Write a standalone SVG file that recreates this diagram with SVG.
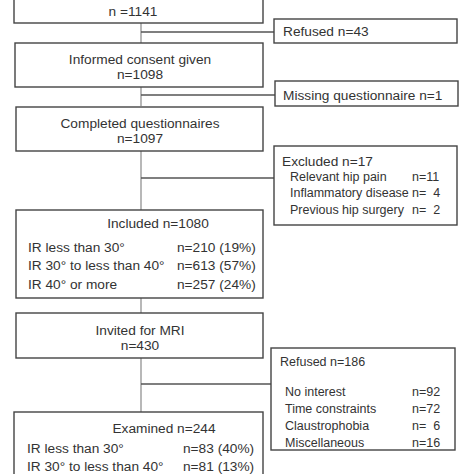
<svg xmlns="http://www.w3.org/2000/svg" width="474" height="474" viewBox="0 0 474 474">
<style>
.box{fill:#fff;stroke:#444;stroke-width:1.4}
.v{stroke:#9a9a9a;stroke-width:1.4;fill:none}
.h{stroke:#555;stroke-width:1.4;fill:none}
text{font-family:"Liberation Sans",Arial,sans-serif;font-size:13.7px;fill:#333;white-space:pre}
.s{font-size:12.5px}
.c{text-anchor:middle}
</style>
<rect width="474" height="474" fill="#fff"/>
<g id="connectors">
<line class="v" x1="141" y1="23" x2="141" y2="43"/>
<line class="h" x1="141" y1="32" x2="274" y2="32"/>
<line class="v" x1="141" y1="87" x2="141" y2="106"/>
<line class="h" x1="141" y1="95" x2="275" y2="95"/>
<line class="v" x1="141" y1="151" x2="141" y2="210"/>
<line class="h" x1="141" y1="178" x2="274" y2="178"/>
<line class="v" x1="141" y1="298" x2="141" y2="313"/>
<line class="v" x1="141" y1="358" x2="141" y2="412"/>
<line class="h" x1="141" y1="384" x2="271" y2="384"/>
</g>
<g id="n1">
<rect class="box" x="14" y="-10" width="249" height="33"/>
<text class="c" x="133" y="16">n =1141</text>
</g>
<g id="refused1">
<rect class="box" x="274" y="19" width="183" height="24"/>
<text x="283" y="36">Refused n=43</text>
</g>
<g id="consent">
<rect class="box" x="15" y="43" width="248" height="44"/>
<text class="c" x="140" y="64">Informed consent given</text>
<text class="c" x="140" y="79">n=1098</text>
</g>
<g id="missing">
<rect class="box" x="275" y="81" width="183" height="25"/>
<text x="283" y="100">Missing questionnaire n=1</text>
</g>
<g id="completed">
<rect class="box" x="16" y="107" width="247" height="44"/>
<text class="c" x="140" y="128">Completed questionnaires</text>
<text class="c" x="140" y="143">n=1097</text>
</g>
<g id="excluded">
<rect class="box" x="274" y="146" width="183" height="79"/>
<text x="282" y="166">Excluded n=17</text>
<text class="s" x="290" y="181">Relevant hip pain</text><text class="s" x="412" y="181">n=11</text>
<text class="s" x="290" y="197">Inflammatory disease</text><text class="s" x="412" y="197">n=  4</text>
<text class="s" x="290" y="214">Previous hip surgery</text><text class="s" x="412" y="214">n=  2</text>
</g>
<g id="included">
<rect class="box" x="16" y="210" width="247" height="88"/>
<text class="c" x="158" y="228">Included n=1080</text>
<text x="28" y="252">IR less than 30°</text><text x="177" y="252">n=210 (19%)</text>
<text x="28" y="270">IR 30° to less than 40°</text><text x="177" y="270">n=613 (57%)</text>
<text x="28" y="289">IR 40° or more</text><text x="177" y="289">n=257 (24%)</text>
</g>
<g id="invited">
<rect class="box" x="16" y="313" width="247" height="45"/>
<text class="c" x="140" y="335">Invited for MRI</text>
<text class="c" x="140" y="350">n=430</text>
</g>
<g id="refused2">
<rect class="box" x="271" y="348" width="184" height="102"/>
<text class="s" x="280" y="366">Refused n=186</text>
<text class="s" x="285" y="396">No interest</text><text class="s" x="412" y="396">n=92</text>
<text class="s" x="285" y="413">Time constraints</text><text class="s" x="412" y="413">n=72</text>
<text class="s" x="285" y="430">Claustrophobia</text><text class="s" x="412" y="430">n=  6</text>
<text class="s" x="285" y="447">Miscellaneous</text><text class="s" x="412" y="447">n=16</text>
</g>
<g id="examined">
<rect class="box" x="14" y="412" width="249" height="80"/>
<text class="c" x="164" y="433">Examined n=244</text>
<text x="27" y="453">IR less than 30°</text><text x="183" y="453">n=83 (40%)</text>
<text x="27" y="471">IR 30° to less than 40°</text><text x="183" y="471">n=81 (13%)</text>
</g>
</svg>
